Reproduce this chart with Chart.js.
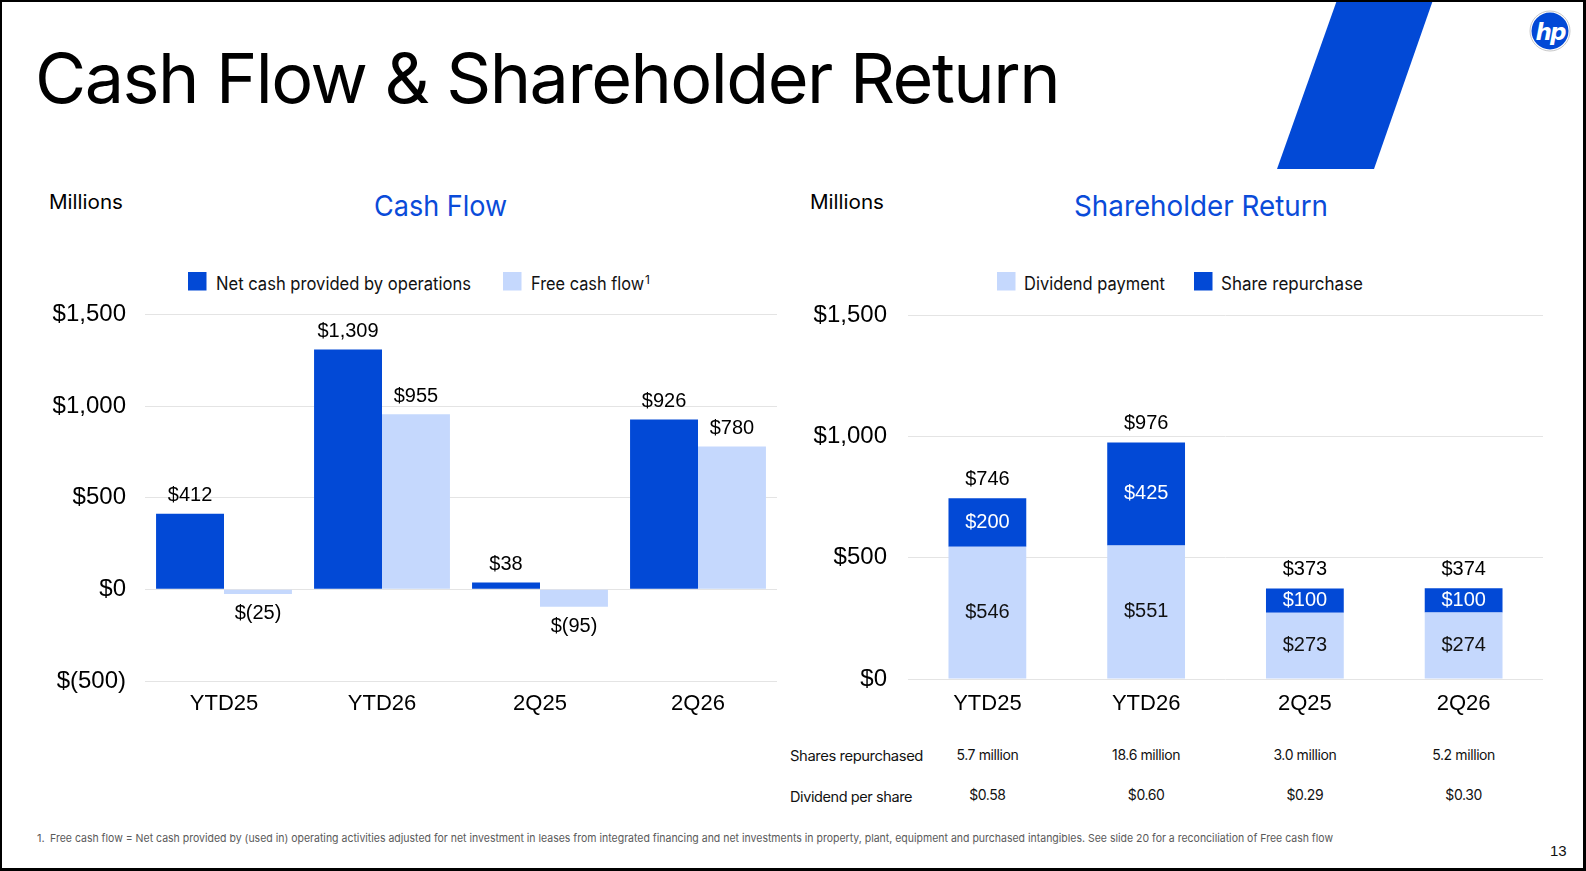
<!DOCTYPE html>
<html>
<head>
<meta charset="utf-8">
<script src="https://cdn.jsdelivr.net/npm/chart.js@4.4.1/dist/chart.umd.min.js"></script>
<style>
  html, body { margin:0; padding:0; background:#fff; }
  #page { position:relative; width:1586px; height:871px; overflow:hidden; background:#fff; }
  #deco { position:absolute; left:0; top:0; }
  canvas { position:absolute; }
  #frame { position:absolute; left:0; top:0; width:1586px; height:871px; box-sizing:border-box;
           border-style:solid; border-color:#000; border-width:2px 3px 3px 2px; pointer-events:none; }
</style>
</head>
<body>
<div id="page">
  <svg id="deco" width="1586" height="871" xmlns="http://www.w3.org/2000/svg">
    <polygon points="1337,0 1433,0 1374,169 1277,169" fill="#0249D6"/>
    <circle cx="1550" cy="31" r="20" fill="#fff" stroke="#c8c8c8" stroke-width="1"/>
    <circle cx="1550" cy="31" r="18.5" fill="#0249D6"/>
    <text x="1550" y="40" text-anchor="middle" font-family="'DejaVu Sans', sans-serif" font-style="italic" font-weight="bold" font-size="23" fill="#fff" letter-spacing="-2">hp</text>

    <text x="35" y="103" font-family="Inter, sans-serif" font-size="69" fill="#000" letter-spacing="-1.5" textLength="1024" lengthAdjust="spacingAndGlyphs">Cash Flow &amp; Shareholder Return</text>

    <text x="49" y="209" font-family="Inter, sans-serif" font-size="20" fill="#000" textLength="74" lengthAdjust="spacingAndGlyphs">Millions</text>
    <text x="374" y="216" font-family="Inter, sans-serif" font-size="29" fill="#0A4BD9" textLength="133" lengthAdjust="spacingAndGlyphs">Cash Flow</text>
    <text x="810" y="209" font-family="Inter, sans-serif" font-size="20" fill="#000" textLength="74" lengthAdjust="spacingAndGlyphs">Millions</text>
    <text x="1074" y="216" font-family="Inter, sans-serif" font-size="29" fill="#0A4BD9" textLength="254" lengthAdjust="spacingAndGlyphs">Shareholder Return</text>

    <rect x="188" y="272" width="18.5" height="18.5" fill="#0249D6"/>
    <text x="216" y="290" font-family="Inter, sans-serif" font-size="18" fill="#111" textLength="255" lengthAdjust="spacingAndGlyphs">Net cash provided by operations</text>
    <rect x="503" y="272" width="18.5" height="18.5" fill="#C5D8FD"/>
    <text x="531" y="290" font-family="Inter, sans-serif" font-size="18" fill="#111" textLength="113" lengthAdjust="spacingAndGlyphs">Free cash flow</text>
    <text x="645" y="284" font-family="Inter, sans-serif" font-size="12" fill="#111">1</text>

    <rect x="997" y="272" width="18.5" height="18.5" fill="#C5D8FD"/>
    <text x="1024" y="290" font-family="Inter, sans-serif" font-size="18" fill="#111" textLength="141" lengthAdjust="spacingAndGlyphs">Dividend payment</text>
    <rect x="1194" y="272" width="18.5" height="18.5" fill="#0249D6"/>
    <text x="1221" y="290" font-family="Inter, sans-serif" font-size="18" fill="#111" textLength="142" lengthAdjust="spacingAndGlyphs">Share repurchase</text>

    <g id="table" font-family="Inter, sans-serif" font-size="14" fill="#111" letter-spacing="-0.4">
      <text x="790" y="761" textLength="133" lengthAdjust="spacingAndGlyphs">Shares repurchased</text>
      <text x="790" y="802" textLength="122" lengthAdjust="spacingAndGlyphs">Dividend per share</text>
    </g>

    <text x="37" y="842" font-family="Inter, sans-serif" font-size="11" fill="#5a5a5a">1.</text>
    <text x="50" y="842" font-family="Inter, sans-serif" font-size="11" fill="#5a5a5a" textLength="1283" lengthAdjust="spacingAndGlyphs">Free cash flow = Net cash provided by (used in) operating activities adjusted for net investment in leases from integrated financing and net investments in property, plant, equipment and purchased intangibles. See slide 20 for a reconciliation of Free cash flow</text>
    <text x="1550" y="856" font-family="'Liberation Sans', Arial, sans-serif" font-size="15" fill="#111">13</text>
  </svg>
  <canvas id="cashChart" width="790" height="444" style="left:0px; top:281px;"></canvas>
  <canvas id="returnChart" width="775" height="443" style="left:780px; top:280px;"></canvas>
  <div id="frame"></div>
</div>
<script>
// data
const categories = ['YTD25', 'YTD26', '2Q25', '2Q26'];
const netCashOps = [412, 1309, 38, 926];
const freeCashFlow = [-25, 955, -95, 780];
const dividendPayment = [546, 551, 273, 274];
const shareRepurchase = [200, 425, 100, 100];
const returnTotals = [746, 976, 373, 374];
const sharesRepurchased = ['5.7 million', '18.6 million', '3.0 million', '5.2 million'];
const dividendPerShare = ['$0.58', '$0.60', '$0.29', '$0.30'];

const DARK = '#0249D6';
const LIGHT = '#C5D8FD';
const NUMFONT = "'Liberation Sans', Arial, sans-serif";

function money(v) {
  const a = Math.abs(v).toLocaleString('en-US');
  return v < 0 ? '$(' + a + ')' : '$' + a;
}

// draws the $ labels on/above bars
const barLabels = {
  id: 'barLabels',
  afterDatasetsDraw(chart, args, opts) {
    const ctx = chart.ctx;
    ctx.save();
    ctx.font = '20px ' + NUMFONT;
    ctx.textAlign = 'center';
    ctx.textBaseline = 'middle';
    if (opts.mode === 'grouped') {
      chart.data.datasets.forEach((ds, i) => {
        chart.getDatasetMeta(i).data.forEach((bar, j) => {
          const v = ds.data[j];
          ctx.fillStyle = '#000';
          ctx.fillText(money(v), bar.x, v >= 0 ? bar.y - 18 : bar.y + 20);
        });
      });
    } else {
      chart.data.datasets.forEach((ds, i) => {
        chart.getDatasetMeta(i).data.forEach((bar, j) => {
          ctx.fillStyle = ds.labelColor;
          ctx.fillText(money(ds.data[j]), bar.x, (bar.y + bar.base) / 2);
        });
      });
      const last = chart.getDatasetMeta(chart.data.datasets.length - 1).data;
      opts.totals.forEach((t, j) => {
        ctx.fillStyle = '#000';
        ctx.fillText(money(t), last[j].x, last[j].y - 19);
      });
    }
    ctx.restore();
  }
};

const cashChart = new Chart(document.getElementById('cashChart'), {
  type: 'bar',
  data: {
    labels: categories,
    datasets: [
      { label: 'Net cash provided by operations', data: netCashOps, backgroundColor: DARK, borderWidth: 0,
        categoryPercentage: 0.86, barPercentage: 1.0 },
      { label: 'Free cash flow', data: freeCashFlow, backgroundColor: LIGHT, borderWidth: 0,
        categoryPercentage: 0.86, barPercentage: 1.0 }
    ]
  },
  options: {
    responsive: false,
    animation: false,
    layout: { padding: { top: 7, right: 13, left: 0, bottom: 0 } },
    plugins: { legend: { display: false }, tooltip: { enabled: false }, barLabels: { mode: 'grouped' } },
    scales: {
      x: {
        grid: { display: false, drawTicks: false },
        border: { display: false },
        ticks: { color: '#000', font: { size: 22, family: NUMFONT }, padding: 10 },
        afterFit(s) { s.height = 44; }
      },
      y: {
        min: -500, max: 1500,
        grid: { color: '#e4e4e4', drawTicks: false },
        border: { display: false },
        ticks: { stepSize: 500, color: '#000', font: { size: 24, family: NUMFONT }, padding: 19,
                 callback: v => money(v) },
        afterFit(s) { s.width = 145; }
      }
    }
  },
  plugins: [barLabels]
});

const returnChart = new Chart(document.getElementById('returnChart'), {
  type: 'bar',
  data: {
    labels: categories,
    datasets: [
      { label: 'Dividend payment', data: dividendPayment, backgroundColor: LIGHT, borderWidth: 0,
        labelColor: '#111', categoryPercentage: 0.49, barPercentage: 1.0 },
      { label: 'Share repurchase', data: shareRepurchase, backgroundColor: DARK, borderWidth: 0,
        labelColor: '#fff', categoryPercentage: 0.49, barPercentage: 1.0 }
    ]
  },
  options: {
    responsive: false,
    animation: false,
    layout: { padding: { top: 7, right: 12, left: 0, bottom: 0 } },
    plugins: { legend: { display: false }, tooltip: { enabled: false },
               barLabels: { mode: 'stacked', totals: returnTotals } },
    scales: {
      x: {
        stacked: true,
        grid: { display: false, drawTicks: false },
        border: { display: false },
        ticks: { color: '#000', font: { size: 22, family: NUMFONT }, padding: 12 },
        afterFit(s) { s.height = 44; }
      },
      y: {
        stacked: true,
        min: 0, max: 1500,
        grid: { color: '#e4e4e4', drawTicks: false },
        border: { display: false },
        ticks: { stepSize: 500, color: '#000', font: { size: 24, family: NUMFONT }, padding: 21,
                 callback: v => money(v) },
        afterFit(s) { s.width = 128; }
      }
    }
  },
  plugins: [barLabels]
});

// table rows under the right chart, lined up with its categories
const tbl = document.getElementById('table');
const NS = 'http://www.w3.org/2000/svg';
categories.forEach((c, i) => {
  const x = 780 + returnChart.scales.x.getPixelForValue(i);
  [[sharesRepurchased[i], 760], [dividendPerShare[i], 800]].forEach(([txt, y]) => {
    const t = document.createElementNS(NS, 'text');
    t.setAttribute('x', x);
    t.setAttribute('y', y);
    t.setAttribute('text-anchor', 'middle');
    t.textContent = txt;
    tbl.appendChild(t);
  });
});
</script>
</body>
</html>
